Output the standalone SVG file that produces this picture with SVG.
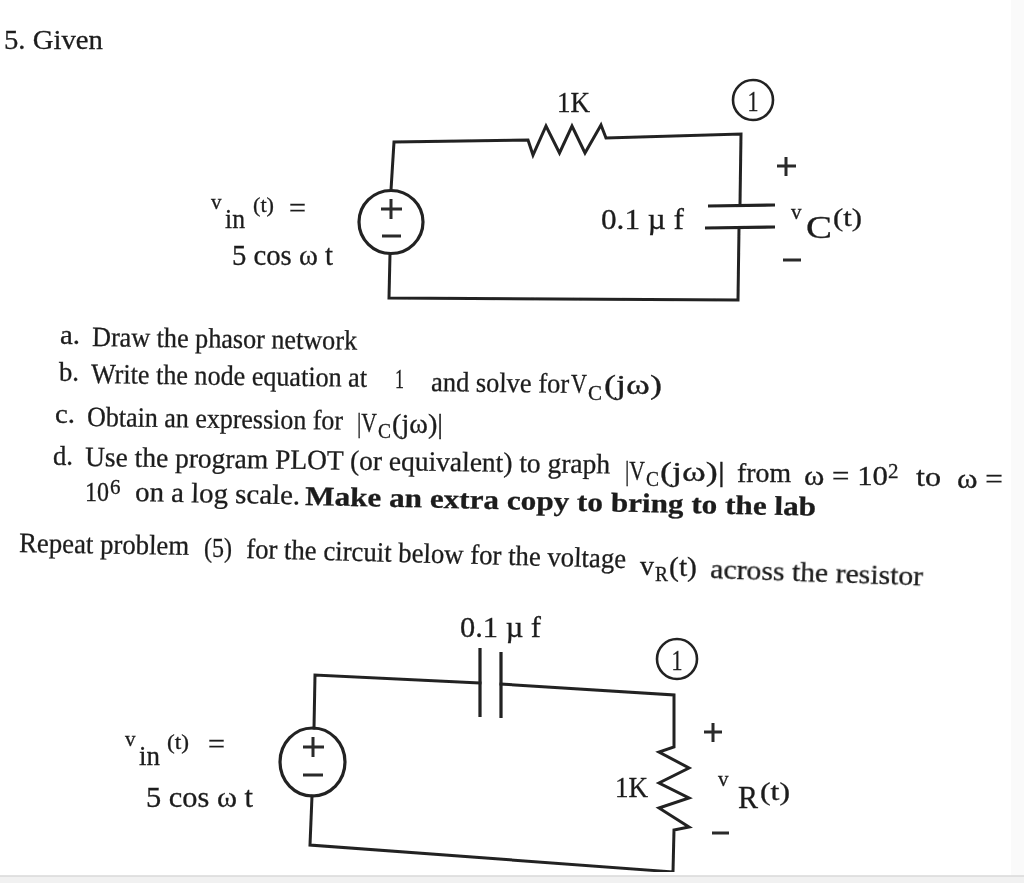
<svg xmlns="http://www.w3.org/2000/svg" width="1024" height="883" viewBox="0 0 1024 883">
<style>
text{font-family:"Liberation Serif","Times New Roman",serif;fill:#1c1c1c;stroke:#1c1c1c;stroke-width:.3}
.t{font-size:29px}.l{font-size:28px}.s{font-size:21px}.m{font-size:25px}.c{font-size:32px}.b{font-weight:bold;font-size:27px}
.w{fill:none;stroke:#222;stroke-width:3;stroke-linecap:square;stroke-linejoin:miter}
.e{fill:none;stroke:#222;stroke-width:3.200}.n{fill:none;stroke:#222;stroke-width:2.600}
.g{stroke:#2a2a2a;stroke-width:3;fill:none}
</style>
<defs><filter id="soft" x="0" y="0" width="100%" height="100%"><feGaussianBlur stdDeviation="0.55"/></filter></defs>
<rect width="1024" height="883" fill="#fff"/>
<rect x="1011" width="13" height="876" fill="#fafafa"/>
<rect y="876" width="1024" height="7" fill="#f1f1f1"/>
<path d="M0 876H1024" stroke="#d8d8d8" stroke-width="1.500"/>
<g filter="url(#soft)">
<g id="connectors">
<path class="w" d="M390 254L389 298L738 300L739 228"/>
<path class="w" d="M391 190L394 142L528 140L533 155L546 126L559.500 153L572 126L585 153L601 125L606 138L741 134L740 205"/>
<path class="w" d="M314 728L315 675L480 683M501 684L674 695L674 747L659 752L689 768L659 783L689 798L659 808L689 827L674 830L673 872L310 845L312 796"/>
</g>
<g id="source-1"><ellipse class="e" cx="391" cy="222" rx="32" ry="31.500"/><path class="g" d="M381 209H402M391 199V219M382 236H401"/></g>
<g id="capacitor-1"><path class="e" d="M708 206L775 205M705 228L775 227"/></g>
<g id="node-1"><circle class="n" cx="753" cy="100" r="20"/><text class="t" x="753" y="111" text-anchor="middle" textLength="11" lengthAdjust="spacingAndGlyphs">1</text></g>
<g id="source-2"><ellipse class="e" cx="312.500" cy="762" rx="32.500" ry="34"/><path class="g" d="M303 747H324M313 737V757M303 775H323"/></g>
<g id="capacitor-2"><path class="e" d="M480 648V717M501 652V718"/></g>
<g id="node-2"><circle class="n" cx="677" cy="659" r="20"/><text class="t" x="677" y="670" text-anchor="middle" textLength="11" lengthAdjust="spacingAndGlyphs">1</text></g>
<g id="labels-1">
<text class="t" x="557" y="112" textLength="33" lengthAdjust="spacingAndGlyphs">1K</text>
<text class="t" x="601" y="229" textLength="83" lengthAdjust="spacingAndGlyphs">0.1 µ f</text>
<path class="g" d="M777 166H796M786 157V176M783 260H801"/>
<text class="s" x="211" y="209">v</text><text class="l" x="225" y="228" textLength="20" lengthAdjust="spacingAndGlyphs">in</text><text class="s" x="253" y="212" textLength="21" lengthAdjust="spacingAndGlyphs">(t)</text><text class="l" x="289" y="217" textLength="17" lengthAdjust="spacingAndGlyphs">=</text>
<text class="t" x="232" y="265" textLength="101" lengthAdjust="spacingAndGlyphs">5 cos  ω t</text>
<text class="s" x="791" y="219">v</text><text class="c" x="806" y="238" textLength="26" lengthAdjust="spacingAndGlyphs">C</text><text class="m" x="833" y="226" textLength="29" lengthAdjust="spacingAndGlyphs">(t)</text>
</g>
<g id="labels-2">
<text class="t" x="460" y="637" textLength="81" lengthAdjust="spacingAndGlyphs">0.1 µ f</text>
<text class="t" x="615" y="797" textLength="33" lengthAdjust="spacingAndGlyphs">1K</text>
<path class="g" d="M704 732H722M713 723V742M712 833H729"/>
<text class="s" x="125" y="746">v</text><text class="l" x="139" y="765" textLength="21" lengthAdjust="spacingAndGlyphs">in</text><text class="s" x="167" y="749" textLength="22" lengthAdjust="spacingAndGlyphs">(t)</text><text class="l" x="208" y="753" textLength="17" lengthAdjust="spacingAndGlyphs">=</text>
<text class="t" x="146" y="807" textLength="107" lengthAdjust="spacingAndGlyphs">5 cos  ω t</text>
<text class="s" x="718" y="786">v</text><text class="c" x="738" y="808" textLength="20" lengthAdjust="spacingAndGlyphs">R</text><text class="m" x="760" y="800" textLength="30" lengthAdjust="spacingAndGlyphs">(t)</text>
</g>
<g id="problem-text">
<text class="l" x="4" y="49" textLength="99" lengthAdjust="spacingAndGlyphs">5.  Given</text>
<text class="l" x="60" y="344" textLength="20" lengthAdjust="spacingAndGlyphs">a.</text>
<text class="l" x="92" y="346" textLength="265" lengthAdjust="spacingAndGlyphs" transform="rotate(.8 92 346)">Draw the phasor network</text>
<text class="l" x="59" y="381" textLength="20" lengthAdjust="spacingAndGlyphs">b.</text>
<text class="l" x="91" y="383" textLength="276" lengthAdjust="spacingAndGlyphs" transform="rotate(.8 91 383)">Write the node equation at</text>
<text class="l" x="395" y="388" textLength="9" lengthAdjust="spacingAndGlyphs">1</text>
<text class="l" x="431" y="391" textLength="138" lengthAdjust="spacingAndGlyphs" transform="rotate(.8 431 391)">and solve for</text>
<text class="l" x="571" y="393" textLength="16" lengthAdjust="spacingAndGlyphs">V</text><text class="s" x="588" y="400" textLength="14" lengthAdjust="spacingAndGlyphs">C</text><text class="l" x="604" y="394" textLength="58" lengthAdjust="spacingAndGlyphs">(jω)</text>
<text class="l" x="55" y="423" textLength="20" lengthAdjust="spacingAndGlyphs">c.</text>
<text class="l" x="87" y="426" textLength="256" lengthAdjust="spacingAndGlyphs" transform="rotate(.8 87 426)">Obtain an expression for</text>
<text class="l" x="357" y="432" textLength="20" lengthAdjust="spacingAndGlyphs">|V</text><text class="s" x="378" y="438" textLength="13" lengthAdjust="spacingAndGlyphs">C</text><text class="l" x="392" y="433" textLength="51" lengthAdjust="spacingAndGlyphs">(jω)|</text>
<text class="l" x="53" y="465" textLength="20" lengthAdjust="spacingAndGlyphs">d.</text>
<text class="l" x="85" y="466" textLength="525" lengthAdjust="spacingAndGlyphs" transform="rotate(.8 85 466)">Use the program PLOT (or equivalent) to graph</text>
<text class="l" x="625" y="480" textLength="20" lengthAdjust="spacingAndGlyphs">|V</text><text class="s" x="646" y="486" textLength="13" lengthAdjust="spacingAndGlyphs">C</text><text class="l" x="660" y="481" textLength="65" lengthAdjust="spacingAndGlyphs">(jω)|</text>
<text class="l" x="737" y="482" textLength="54" lengthAdjust="spacingAndGlyphs">from</text>
<text class="l" x="804" y="485" textLength="84" lengthAdjust="spacingAndGlyphs">ω = 10</text><text class="s" x="888" y="478">2</text>
<text class="l" x="916" y="486" textLength="25" lengthAdjust="spacingAndGlyphs">to</text>
<text class="l" x="957" y="488" textLength="46" lengthAdjust="spacingAndGlyphs">ω =</text>
<text class="l" x="85" y="501" textLength="24" lengthAdjust="spacingAndGlyphs">10</text><text class="s" x="110" y="494">6</text>
<text class="l" x="135" y="501" textLength="165" lengthAdjust="spacingAndGlyphs" transform="rotate(1.200 135 501)">on a log scale.</text>
<text class="b" x="305" y="505" textLength="511" lengthAdjust="spacingAndGlyphs" transform="rotate(1.200 305 505)">Make an extra copy to bring to the lab</text>
<text class="l" x="19" y="552" textLength="170" lengthAdjust="spacingAndGlyphs" transform="rotate(1 19 552)">Repeat problem</text>
<text class="l" x="204" y="557" textLength="28" lengthAdjust="spacingAndGlyphs">(5)</text>
<text class="l" x="246" y="558" textLength="380" lengthAdjust="spacingAndGlyphs" transform="rotate(1.500 246 558)">for the circuit below for the voltage</text>
<text class="l" x="640" y="575" textLength="14" lengthAdjust="spacingAndGlyphs">v</text><text class="s" x="655" y="581" textLength="13" lengthAdjust="spacingAndGlyphs">R</text><text class="l" x="669" y="576" textLength="28" lengthAdjust="spacingAndGlyphs">(t)</text>
<text class="l" x="710" y="578" textLength="213" lengthAdjust="spacingAndGlyphs" transform="rotate(2 710 578)">across the resistor</text>
</g>
</g>
</svg>
